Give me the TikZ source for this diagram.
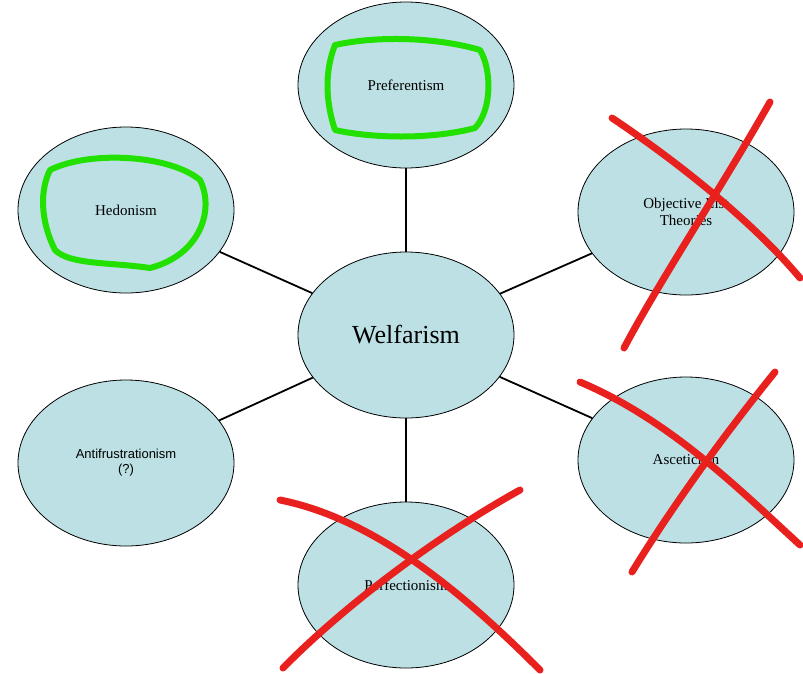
\documentclass[tikz,border=0pt]{standalone}
\usepackage{fontspec}
\setmainfont{Liberation Serif}
\newfontfamily\arialf{Liberation Sans}
\usetikzlibrary{shapes.geometric}
\begin{document}
\begin{tikzpicture}[x=1pt,y=-1pt,
  bub/.style={ellipse,draw=black,line width=0.8pt,fill=bubblue,minimum width=216pt,minimum height=166pt,inner sep=0pt,align=center,font=\fontsize{15}{17}\selectfont},
  link/.style={line width=1.8pt},
  redx/.style={draw=xred,line width=7pt,line cap=round},
  greenring/.style={draw=xgreen,line width=6pt,line cap=round,line join=round}]
\definecolor{bubblue}{HTML}{BCE0E4}
\definecolor{xred}{HTML}{E8201E}
\definecolor{xgreen}{HTML}{22E000}
\useasboundingbox (0,0) rectangle (803,673);
\node[bub,font=\fontsize{26}{30}\selectfont] (w) at (406,335) {Welfarism};
\node[bub] (p) at (406,85) {Preferentism};
\node[bub] (h) at (126,210) {Hedonism};
\node[bub] (o) at (686,212) {Objective List\\Theories};
\node[bub,font=\arialf\fontsize{13}{15}\selectfont] (a) at (126,463) {Antifrustrationism\\(?)};
\node[bub] (s) at (686,460) {Asceticism};
\node[bub] (f) at (406,585) {Perfectionism};
\foreach \n in {p,h,o,a,s,f} \draw[link] (w) -- (\n);
% green rings
\draw[greenring] (335,45) .. controls (380,35) and (440,38) .. (480,50) .. controls (492,70) and (492,110) .. (475,128) .. controls (430,140) and (370,138) .. (335,130) .. controls (325,100) and (325,70) .. (335,45);
\draw[greenring] (50,170) .. controls (90,150) and (170,155) .. (200,180) .. controls (215,210) and (200,255) .. (150,268) .. controls (110,262) and (70,265) .. (55,250) .. controls (40,220) and (40,190) .. (50,170);
% red crosses
\draw[redx] (612,118) .. controls (690,170) and (760,230) .. (800,278);
\draw[redx] (770,102) .. controls (720,190) and (660,280) .. (624,348);
\draw[redx] (580,382) .. controls (670,420) and (740,490) .. (800,545);
\draw[redx] (775,372) .. controls (720,440) and (670,510) .. (632,572);
\draw[redx] (280,500) .. controls (380,520) and (470,600) .. (540,670);
\draw[redx] (520,490) .. controls (430,540) and (340,610) .. (283,668);
\end{tikzpicture}
\end{document}
